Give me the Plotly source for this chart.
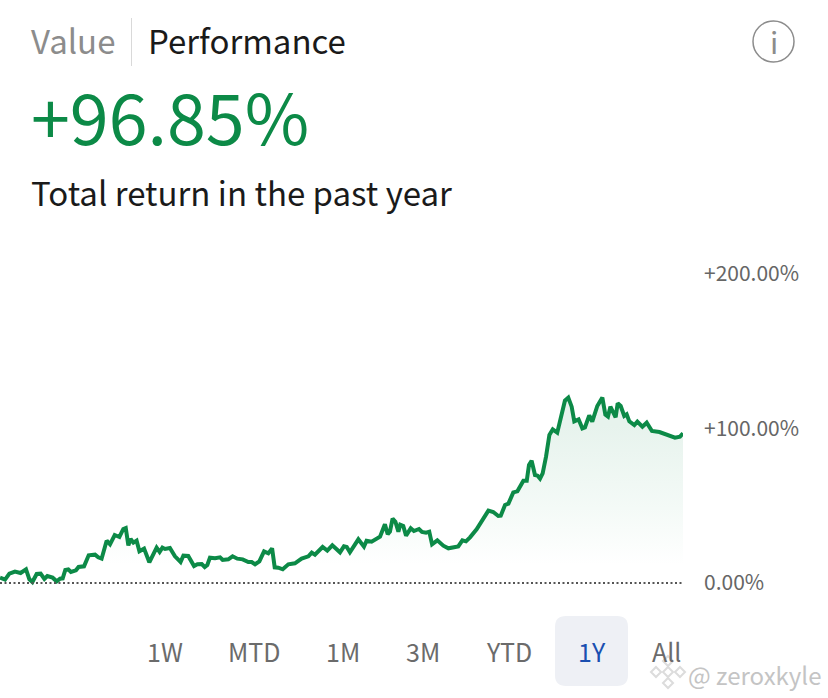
import plotly.graph_objects as go

W, H = 828, 698
FONT = "Noto Sans CJK SC"

# values: day of the year and total return in percent
days = [0, 2.7, 5, 8, 11, 13.9, 15.7, 17.3, 19.6, 21.7, 23.7, 25.3, 28.1, 30.3, 32.1, 33.5, 34.9, 36.5, 37.9, 40.6,
        42, 44.9, 47.4, 50.8, 52.5, 54.3, 57, 58.8, 61.3, 63.8, 65.9, 67.2, 68.6, 69.8, 71.3, 73, 74.5, 77, 79.8, 81.9,
        83.7, 85.3, 86.8, 88.2, 90.8, 93.5, 96.5, 98, 100.6, 103.7, 105.5, 107.8, 109.4, 110.8, 112.2, 114.9, 117.6, 119, 122, 124.3,
        126.8, 129.7, 132.7, 134.5, 136.3, 138.6, 141.1, 143.4, 145.4, 146.8, 148.7, 151.1, 154.1, 157.6, 161.2, 164.8, 166.6, 168.3, 172.4, 174.9,
        177.6, 181.7, 183.8, 185.3, 187, 191.5, 194.5, 195.9, 198.6, 203.1, 205.7, 207.2, 208.4, 209.8, 211.3, 212.9, 213.9, 215.5, 217, 219.5,
        221.2, 223.9, 225.5, 227.7, 229.4, 230.9, 233.7, 236.9, 239.6, 244.9, 247.1, 249, 251.2, 254.7, 257.9, 261, 263.6, 266.3, 267.6, 269.9,
        271.7, 274.3, 276.5, 279.7, 281.5, 282.7, 284.1, 285.9, 287.3, 288.6, 290, 291.8, 293.6, 295.4, 297.8, 300.7, 301.9, 303.7, 305.5, 306.9,
        309.2, 311.2, 312.6, 314.9, 316.5, 319.2, 321.9, 323.5, 324.9, 326.2, 329, 330.1, 331.7, 333.6, 334.9, 336.3, 339, 340.6, 343.3, 345.6,
        348.4, 352.4, 356.3, 360.7, 363.4, 365]
returns = [3.46, 2.16, 6.04, 7.34, 6.48, 8.85, 2.38, 0.65, 5.83, 6.04, 2.59, 4.53, 3.46, 1.08, 2.81, 3.02, 8.42, 8.85, 7.12, 8.2,
           10.36, 10.79, 17.91, 18.34, 16.62, 15.75, 27.4, 25.03, 31.07, 29.78, 34.96, 35.6, 24.38, 28.48, 26.11, 27.4, 20.5, 22.23, 13.38, 18.13,
           22.87, 20.07, 22.87, 22.01, 22.66, 17.26, 13.6, 17.69, 17.48, 11.0, 12.09, 12.3, 10.36, 11.65, 16.4, 15.97, 16.62, 14.89, 15.32, 17.26,
           15.75, 15.32, 13.6, 13.6, 12.09, 14.03, 20.5, 19.2, 22.44, 10.14, 9.93, 8.85, 12.09, 12.73, 15.75, 17.26, 19.64, 18.34, 23.3, 20.93,
           24.38, 19.85, 23.74, 23.3, 19.85, 28.26, 23.51, 27.4, 26.75, 29.99, 37.97, 31.5, 33.22, 41.64, 39.7, 33.22, 37.75, 36.89, 30.64, 35.38,
           33.66, 34.95, 33.01, 32.58, 33.22, 25.03, 27.61, 24.16, 22.44, 23.73, 27.61, 26.97, 29.56, 34.73, 41.21, 46.81, 45.95, 43.37, 43.58, 50.48,
           51.35, 58.68, 59.33, 66.23, 66.23, 76.37, 79.18, 69.9, 69.47, 67.53, 70.98, 81.77, 95.79, 99.46, 97.3, 113.05, 118.01, 119.96, 114.13, 104.64,
           105.93, 100.11, 100.75, 108.52, 104.42, 114.56, 119.96, 108.95, 107.66, 114.13, 107.23, 116.29, 114.56, 108.09, 109.17, 104.64, 102.26, 104.42, 101.18, 103.77,
           98.38, 97.73, 95.79, 94.07, 94.71, 96.85]

tick_values = [0, 100, 200]
tick_labels = ["0.00%", "+100.00%", "+200.00%"]
range_labels = ["1W", "MTD", "1M", "3M", "YTD", "1Y", "All"]
range_centers = [165, 254, 343, 423, 509, 592, 666]

GREEN = "#0c8a47"


def px(x):
    return x / W


def py(y):
    return 1 - y / H


def label(x, y, text, size, color, anchor="left"):
    return dict(x=px(x), y=py(y), xref="paper", yref="paper", text=text, showarrow=False,
                xanchor=anchor, yanchor="middle", font=dict(family=FONT, size=size, color=color))


# rounded rectangle behind the selected range
r = 11
pill = (f"M {px(555 + r)} {py(616)} L {px(628 - r)} {py(616)} Q {px(628)} {py(616)} {px(628)} {py(616 + r)} "
        f"L {px(628)} {py(686 - r)} Q {px(628)} {py(686)} {px(628 - r)} {py(686)} "
        f"L {px(555 + r)} {py(686)} Q {px(555)} {py(686)} {px(555)} {py(686 - r)} "
        f"L {px(555)} {py(616 + r)} Q {px(555)} {py(616)} {px(555 + r)} {py(616)} Z")

shapes = [
    dict(type="path", xref="paper", yref="paper", path=pill, fillcolor="#eef0f5", line_width=0, layer="below"),
    dict(type="line", xref="paper", yref="paper", x0=px(131.5), x1=px(131.5), y0=py(18), y1=py(66),
         line=dict(color="#d9d9d9", width=1)),
    dict(type="circle", xref="paper", yref="paper", x0=px(753), x1=px(794), y0=py(21), y1=py(62),
         line=dict(color="#8c8c8c", width=1.5)),
    dict(type="line", xref="x", yref="y", x0=0, x1=365, y0=0, y1=0,
         line=dict(color="#555555", width=2, dash="2px,2.5px")),
]

# watermark logo, a few small diamonds
for cx, cy, s in [(668, 661, 5), (656, 672, 5), (680, 672, 5), (668, 683, 5), (668, 672, 5)]:
    shapes.append(dict(type="path", xref="paper", yref="paper",
                       path=f"M {px(cx)} {py(cy - s)} L {px(cx + s)} {py(cy)} L {px(cx)} {py(cy + s)} L {px(cx - s)} {py(cy)} Z",
                       fillcolor="rgba(255,255,255,0)", line=dict(color="#dcdcdc", width=2)))

annotations = [
    label(29, 40, "Value", 33, "#8c8c8c"),
    label(146, 40, "Performance", 33, "#1a1a1a"),
    label(29, 114, "+96.85%", 70, GREEN),
    label(29, 192, "Total return in the past year", 33, "#1a1a1a"),
    label(773.5, 41, "i", 30, "#8c8c8c", "center"),
    label(686, 674, "@ zeroxkyle", 24, "#c4c4c4"),
]
for name, cx in zip(range_labels, range_centers):
    annotations.append(label(cx, 651, name, 25, "#1a4fb0" if name == "1Y" else "#6b6b6b", "center"))

fig = go.Figure(go.Scatter(
    x=days, y=returns, mode="lines",
    line=dict(color=GREEN, width=4),
    fill="tozeroy",
    fillgradient=dict(type="vertical",
                      colorscale=[[0, "#ffffff"], [0.1, "#ffffff"], [0.4, "#f4faf7"], [0.85, "#e7f3ed"], [1, "#e7f3ed"]]),
    showlegend=False))

fig.update_layout(
    width=W, height=H,
    margin=dict(l=0, r=0, t=0, b=0),
    paper_bgcolor="white", plot_bgcolor="white",
    shapes=shapes, annotations=annotations,
    xaxis=dict(domain=[0, 683 / W], range=[0, 365], visible=False, fixedrange=True),
    yaxis=dict(domain=[0, 1], range=[(583 - H) / 1.545, 583 / 1.545], side="right",
               tickvals=tick_values, ticktext=tick_labels, ticks="", ticklabelstandoff=20,
               tickfont=dict(family=FONT, size=21, color="#666666"),
               showgrid=False, zeroline=False, showline=False, fixedrange=True),
)

# the page's default body margin would shift everything by 8px
fig.write_html("out.html", config={"displayModeBar": False}, post_script="document.body.style.margin='0';")
